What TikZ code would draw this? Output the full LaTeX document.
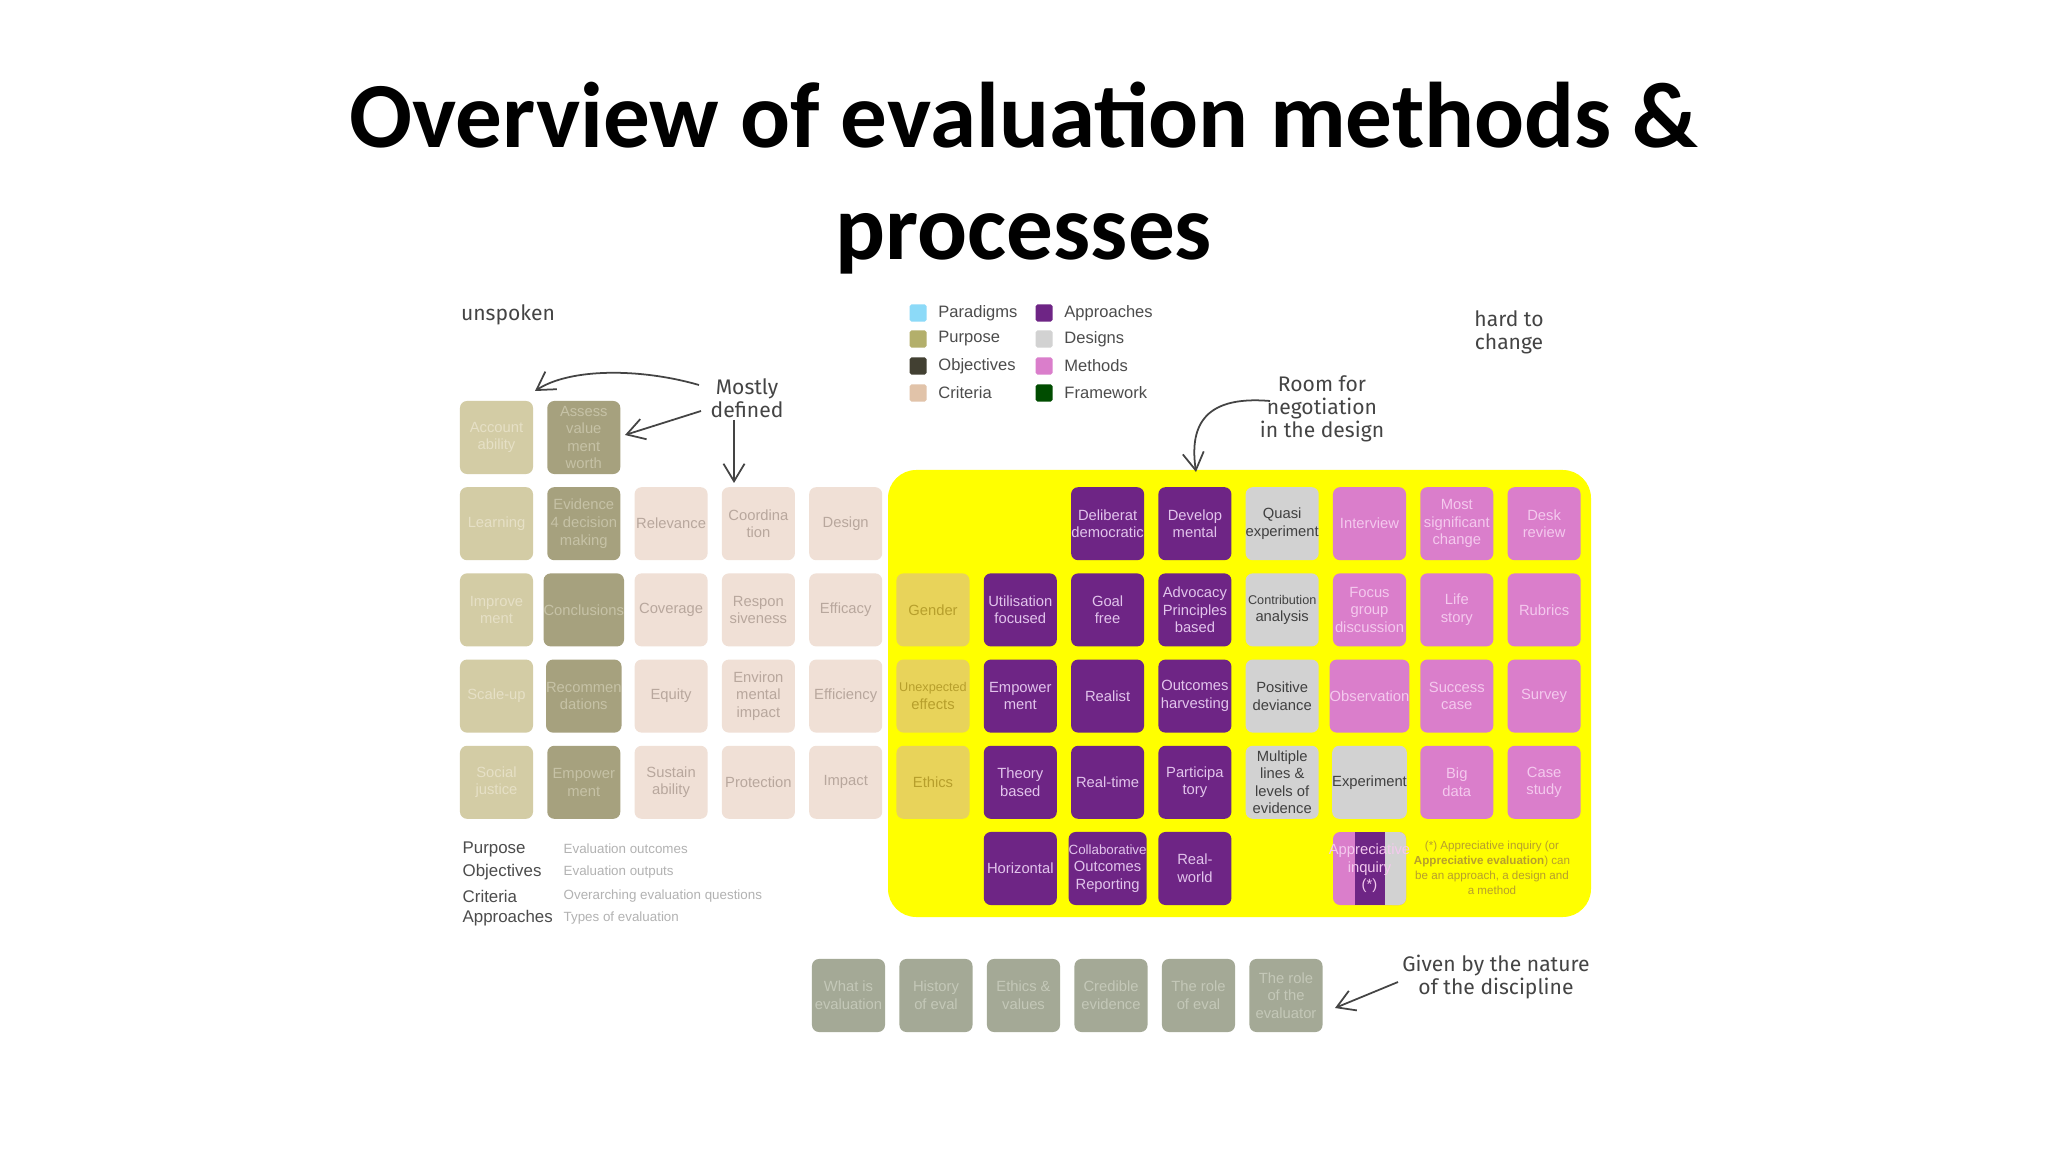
\documentclass[tikz,border=0pt]{standalone}
\usepackage{fontspec}
\setmainfont{Carlito}
\newfontfamily\tf{Liberation Sans}
\newfontfamily\hw{Fira Sans}
\usetikzlibrary{arrows.meta,positioning}
\definecolor{purp}{HTML}{6E2585}
\definecolor{purtx}{HTML}{E2C4EC}
\definecolor{pnk}{HTML}{DA7ECB}
\definecolor{pnktx}{HTML}{F4C9EE}
\definecolor{gry}{HTML}{D2D2D2}
\definecolor{tanl}{HTML}{D3CCA5}
\definecolor{tanltx}{HTML}{E6E0C6}
\definecolor{oliv}{HTML}{A6A17E}
\definecolor{olivtx}{HTML}{C6C2A6}
\definecolor{crit}{HTML}{F0E0D6}
\definecolor{crittx}{HTML}{B8A79D}
\definecolor{gold}{HTML}{E8D35A}
\definecolor{goldtx}{HTML}{B79F2C}
\definecolor{ylw}{HTML}{FFFF00}
\definecolor{bgr}{HTML}{A4A996}
\definecolor{bgrtx}{HTML}{C4C8B8}
\definecolor{ann}{HTML}{444444}
\tikzset{
 tileb/.style={rounded corners=2pt,minimum width=0.73cm,minimum height=0.73cm,inner sep=0pt,align=center,font=\tf\fontsize{4.2}{5}\selectfont},
 tpur/.style={fill=purp,text=purtx},
 tpnk/.style={fill=pnk,text=pnktx},
 tgry/.style={fill=gry,text=black!75},
 ttan/.style={fill=tanl,text=tanltx},
 toliv/.style={fill=oliv,text=olivtx},
 tcrit/.style={fill=crit,text=crittx},
 tgold/.style={fill=gold,text=goldtx},
 tbot/.style={fill=bgr,text=bgrtx},
 annot/.style={font=\hw\fontsize{6}{6.6}\selectfont,text=ann,align=center},
 annarr/.style={draw=ann,line width=0.5pt,-{Straight Barb[length=5pt,width=6pt]}},
 legt/.style={font=\tf\fontsize{4.7}{6}\selectfont,text=black!70,anchor=west,inner sep=1pt},
 legs/.style={minimum size=0.17cm,inner sep=0pt,rounded corners=0.5pt},
 lowt/.style={font=\tf\fontsize{4.8}{6}\selectfont,anchor=west,inner sep=0pt},
}
\newcommand\tileat[5]{\node[tileb,#4] (#1) at ({460+87.3*#2+36.5},{401+86.2*#3+36.5}) {#5};}
\begin{document}
\begin{tikzpicture}[x=0.01cm,y=-0.01cm]
\useasboundingbox (0,0) rectangle (2048,1152);
\fill[white] (0,0) rectangle (2048,1152);
\node[font=\bfseries\fontsize{26.5}{32}\selectfont,align=center] (title) at (1024,178) {Overview of evaluation methods \&\\processes};
% yellow area
\fill[ylw,rounded corners=8pt] (888,470) rectangle (1591,917);
% legend
\node[legs,fill=cyan!45] (s1) at (918,313) {}; \node[legt,right=2pt of s1] (l1) {Paradigms};
\node[legs,fill=oliv!85!yellow] (s2) at (918,339) {}; \node[legt,right=2pt of s2] (l2) {Purpose};
\node[legs,fill=black!60!oliv] (s3) at (918,366) {}; \node[legt,right=2pt of s3] (l3) {Objectives};
\node[legs,fill=crit!70!brown] (s4) at (918,393) {}; \node[legt,right=2pt of s4] (l4) {Criteria};
\node[legs,fill=purp] (s5) at (1044,313) {}; \node[legt,right=2pt of s5] (l5) {Approaches};
\node[legs,fill=gry] (s6) at (1044,339) {}; \node[legt,right=2pt of s6] (l6) {Designs};
\node[legs,fill=pnk] (s7) at (1044,366) {}; \node[legt,right=2pt of s7] (l7) {Methods};
\node[legs,fill=black!70!green] (s8) at (1044,393) {}; \node[legt,right=2pt of s8] (l8) {Framework};
% left tiles
\tileat{a00}{0}{0}{ttan}{Account\\ability}
\tileat{a01}{1}{0}{toliv}{Assess\\value\\ment\\worth}
\tileat{a10}{0}{1}{ttan}{Learning}
\tileat{a11}{1}{1}{toliv}{Evidence\\4 decision\\making}
\tileat{a12}{2}{1}{tcrit}{Relevance}
\tileat{a13}{3}{1}{tcrit}{Coordina\\tion}
\tileat{a14}{4}{1}{tcrit}{Design}
\tileat{a20}{0}{2}{ttan}{Improve\\ment}
\tileat{a21}{1}{2}{toliv}{Conclusions}
\tileat{a22}{2}{2}{tcrit}{Coverage}
\tileat{a23}{3}{2}{tcrit}{Respon\\siveness}
\tileat{a24}{4}{2}{tcrit}{Efficacy}
\tileat{a30}{0}{3}{ttan}{Scale-up}
\tileat{a31}{1}{3}{toliv}{Recommen\\dations}
\tileat{a32}{2}{3}{tcrit}{Equity}
\tileat{a33}{3}{3}{tcrit}{Environ\\mental\\impact}
\tileat{a34}{4}{3}{tcrit}{Efficiency}
\tileat{a40}{0}{4}{ttan}{Social\\justice}
\tileat{a41}{1}{4}{toliv}{Empower\\ment}
\tileat{a42}{2}{4}{tcrit}{Sustain\\ability}
\tileat{a43}{3}{4}{tcrit}{Protection}
\tileat{a44}{4}{4}{tcrit}{Impact}
% yellow tiles
\tileat{b17}{7}{1}{tpur}{Deliberat\\democratic}
\tileat{b18}{8}{1}{tpur}{Develop\\mental}
\tileat{b19}{9}{1}{tgry}{Quasi\\experiment}
\tileat{b110}{10}{1}{tpnk}{Interview}
\tileat{b111}{11}{1}{tpnk}{Most\\significant\\change}
\tileat{b112}{12}{1}{tpnk}{Desk\\review}
\tileat{b25}{5}{2}{tgold}{Gender}
\tileat{b26}{6}{2}{tpur}{Utilisation\\focused}
\tileat{b27}{7}{2}{tpur}{Goal\\free}
\tileat{b28}{8}{2}{tpur}{Advocacy\\Principles\\based}
\tileat{b29}{9}{2}{tgry}{{\fontsize{3.6}{4.5}\selectfont Contribution}\\analysis}
\tileat{b210}{10}{2}{tpnk}{Focus\\group\\discussion}
\tileat{b211}{11}{2}{tpnk}{Life\\story}
\tileat{b212}{12}{2}{tpnk}{Rubrics}
\tileat{b35}{5}{3}{tgold}{{\fontsize{3.6}{4.5}\selectfont Unexpected}\\effects}
\tileat{b36}{6}{3}{tpur}{Empower\\ment}
\tileat{b37}{7}{3}{tpur}{Realist}
\tileat{b38}{8}{3}{tpur}{Outcomes\\harvesting}
\tileat{b39}{9}{3}{tgry}{Positive\\deviance}
\tileat{b310}{10}{3}{tpnk}{Observation}
\tileat{b311}{11}{3}{tpnk}{Success\\case}
\tileat{b312}{12}{3}{tpnk}{Survey}
\tileat{b45}{5}{4}{tgold}{Ethics}
\tileat{b46}{6}{4}{tpur}{Theory\\based}
\tileat{b47}{7}{4}{tpur}{Real-time}
\tileat{b48}{8}{4}{tpur}{Participa\\tory}
\tileat{b49}{9}{4}{tgry}{Multiple\\lines \&\\levels of\\evidence}
\tileat{b410}{10}{4}{tgry}{Experiment}
\tileat{b411}{11}{4}{tpnk}{Big\\data}
\tileat{b412}{12}{4}{tpnk}{Case\\study}
\tileat{b56}{6}{5}{tpur}{Horizontal}
\tileat{b57}{7}{5}{tpur}{{\fontsize{3.8}{4.6}\selectfont Collaborative}\\Outcomes\\Reporting}
\tileat{b58}{8}{5}{tpur}{Real-\\world}
% appreciative inquiry split tile
\fill[pnk,rounded corners=2pt] (1333,832) rectangle (1406,905);
\fill[purp] (1355,832) rectangle (1385,905);
\fill[gry,rounded corners=2pt] (1385,832) rectangle (1406,905);
\fill[gry] (1385,832) rectangle (1395,905);
\node[tileb,text=pnktx] (b510) at (1369.5,868.5) {Appreciative\\inquiry\\(*)};
\node[font=\tf\fontsize{3.3}{4.2}\selectfont,text=goldtx,align=center] (note) at (1492,868) {(*) Appreciative inquiry (or\\\textbf{Appreciative evaluation}) can\\be an approach, a design and\\a method};
% bottom tiles
\foreach \i/\t in {0/{What is\\evaluation},1/{History\\of eval},2/{Ethics \&\\values},3/{Credible\\evidence},4/{The role\\of eval},5/{The role\\of the\\evaluator}}{
  \node[tileb,tbot] (c\i) at ({812+87.5*\i+36.5},995.5) {\t};
}
% lower left legend
\node[lowt,text=black!70] (p1) at (462,849) {Purpose};
\node[lowt,text=black!70] (p2) at (462,872) {Objectives};
\node[lowt,text=black!70] (p3) at (462,896) {Criteria};
\node[lowt,text=black!70] (p4) at (462,918) {Approaches};
\node[lowt,text=black!30,font=\tf\fontsize{3.8}{5}\selectfont] (q1) at (563,849) {Evaluation outcomes};
\node[lowt,text=black!30,font=\tf\fontsize{3.8}{5}\selectfont] (q2) at (563,872) {Evaluation outputs};
\node[lowt,text=black!30,font=\tf\fontsize{3.8}{5}\selectfont] (q3) at (563,896) {Overarching evaluation questions};
\node[lowt,text=black!30,font=\tf\fontsize{3.8}{5}\selectfont] (q4) at (563,918) {Types of evaluation};
% annotations
\node[annot] (unsp) at (508,315) {unspoken};
\node[annot] (hard) at (1509,332) {hard to\\change};
\node[annot] (most) at (747,398) {Mostly\\defined};
\node[annot] (room) at (1322,409) {Room for\\negotiation\\in the design};
\node[annot] (given) at (1496,977) {Given by the nature\\of the discipline};
\coordinate (m1) at (699,385); \coordinate (m1e) at (535,391);
\coordinate (m2) at (701,411); \coordinate (m2e) at (625,435);
\coordinate (m3) at (734,420); \coordinate (m3e) at (734,483);
\coordinate (r1) at (1270,401); \coordinate (r1e) at (1196,472);
\coordinate (g1) at (1398,982); \coordinate (g1e) at (1335,1008);
\draw[annarr] (m1) .. controls (640,368) and (570,368) .. (m1e);
\draw[annarr] (m2) -- (m2e);
\draw[annarr] (m3) -- (m3e);
\draw[annarr] (r1) .. controls (1200,395) and (1190,430) .. (r1e);
\draw[annarr] (g1) -- (g1e);
\end{tikzpicture}
\end{document}
